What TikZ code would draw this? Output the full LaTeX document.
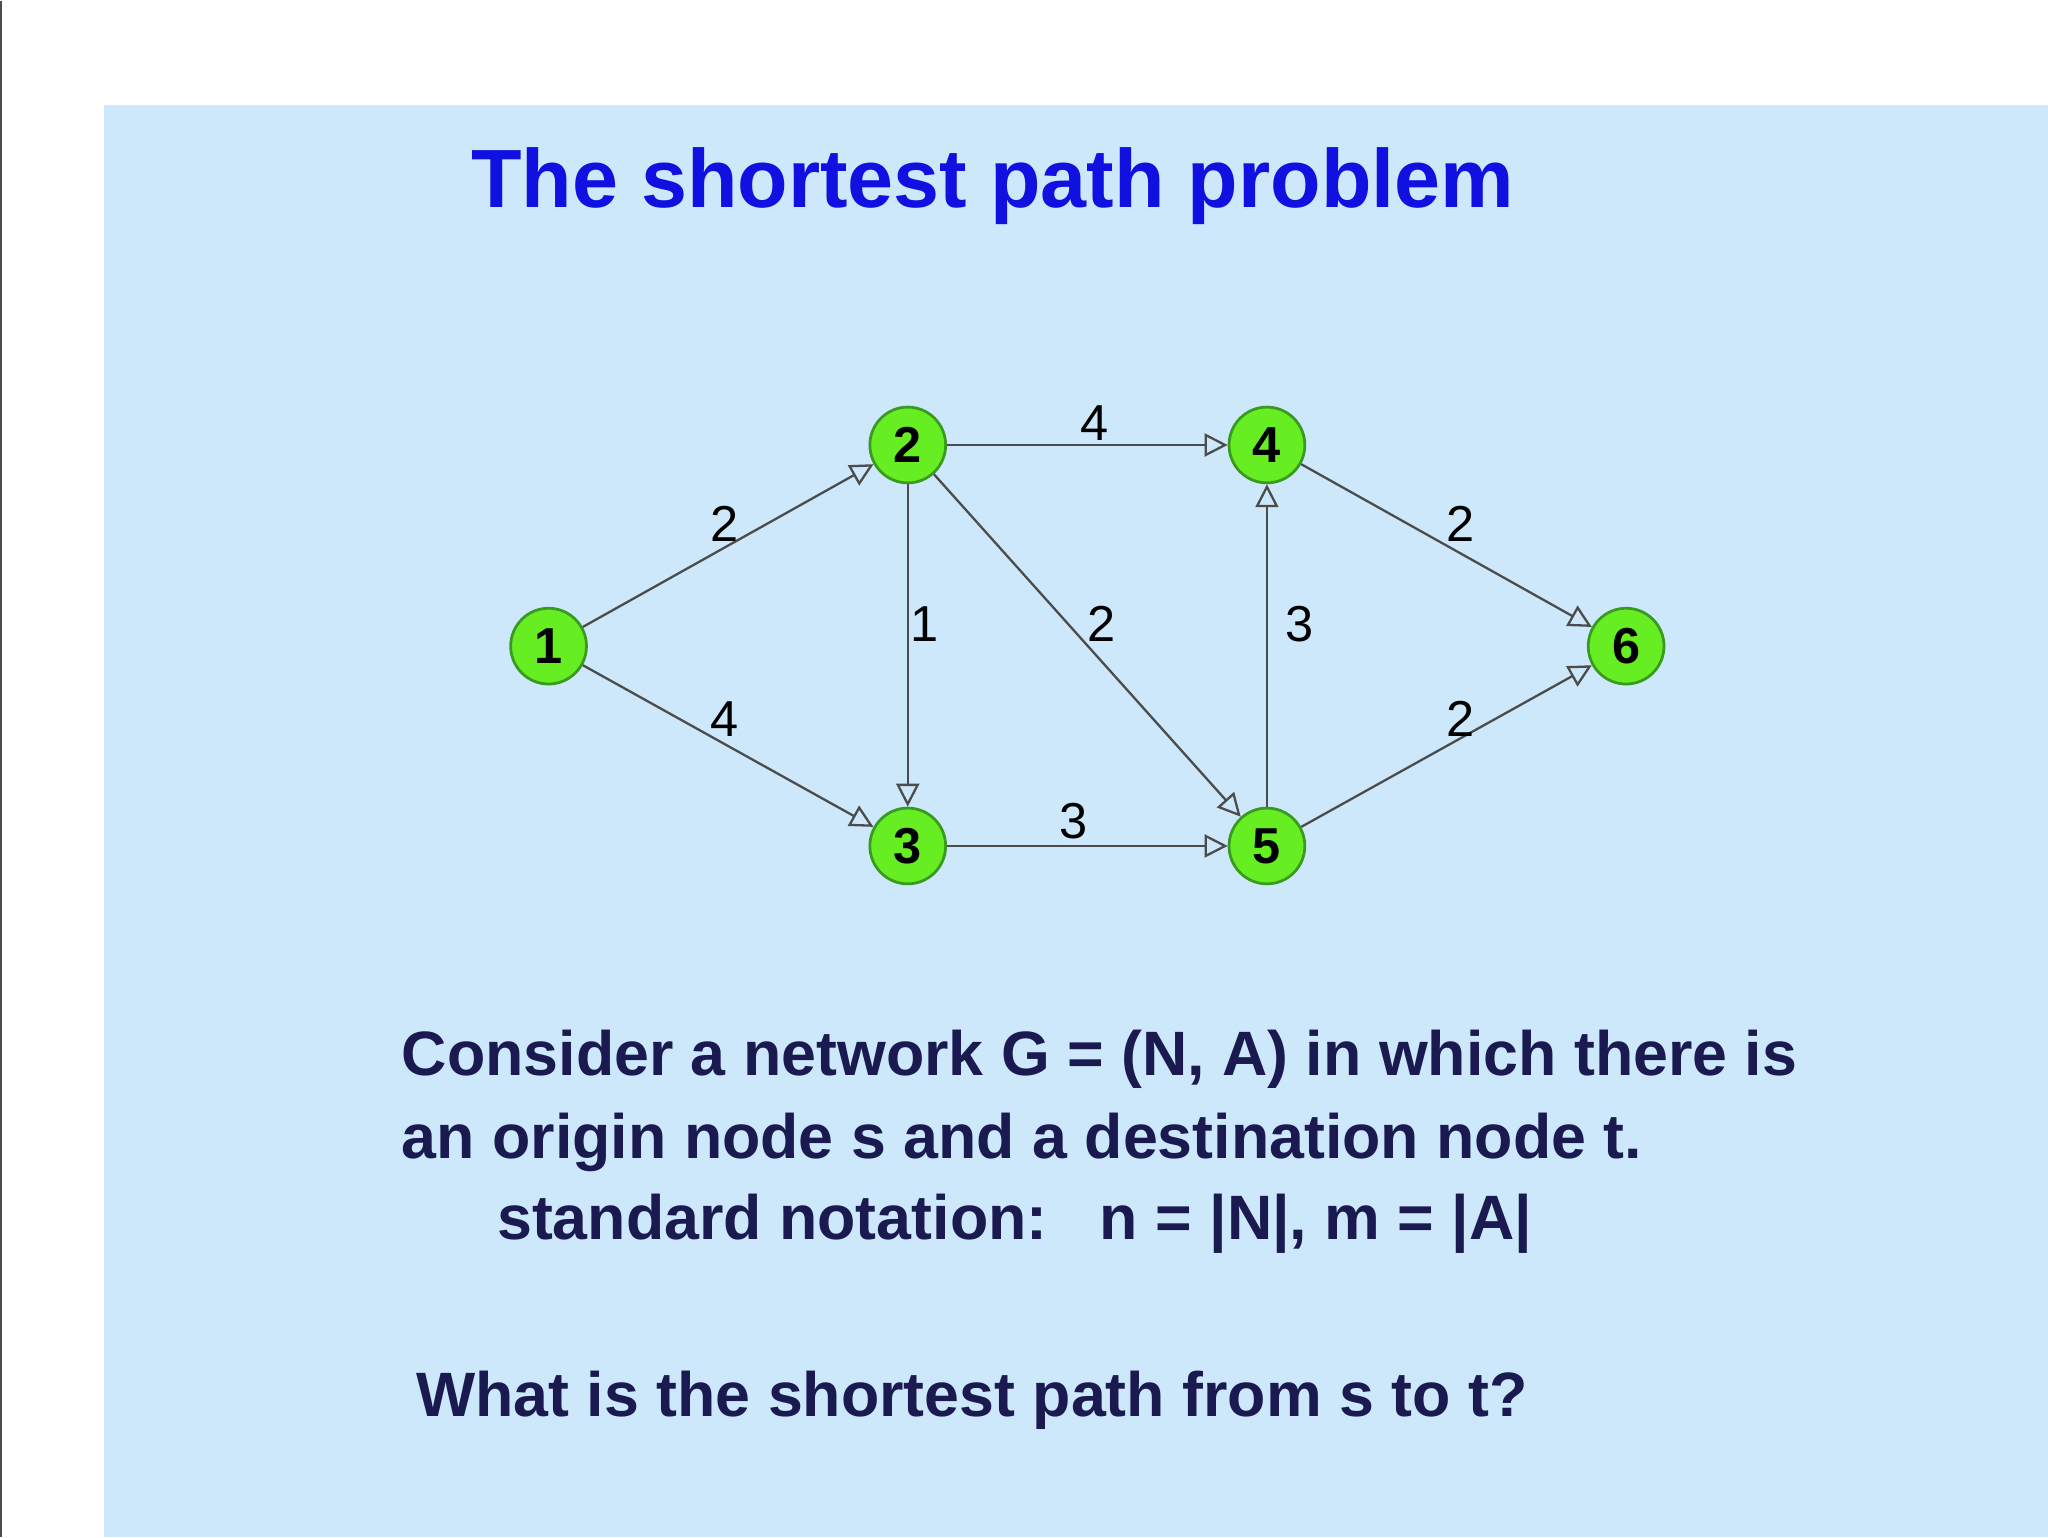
\documentclass[tikz,border=0pt]{standalone}
\usepackage{fontspec}
\setmainfont{Liberation Sans}
\usetikzlibrary{arrows.meta}
\definecolor{bg}{HTML}{CCE8FA}
\definecolor{ng}{HTML}{66EE22}
\definecolor{nb}{HTML}{3A9A20}
\definecolor{tb}{HTML}{1010E0}
\definecolor{tx}{HTML}{1A1A50}
\begin{document}
\begin{tikzpicture}[x=0.01cm,y=-0.01cm,
  vx/.style={circle,fill=ng,draw=nb,line width=0.6pt,minimum size=0.58cm,inner sep=0pt,font=\fontsize{11}{11}\selectfont\bfseries},
  ed/.style={draw=black!70,line width=0.5pt,-{Triangle[open,length=5pt,width=5pt]}},
  el/.style={font=\fontsize{11}{11}\selectfont,text=black},
  body/.style={anchor=base west,inner sep=0pt,text=tx,font=\fontsize{13.65}{13.65}\selectfont\bfseries}]
\fill[white] (0,0) rectangle (1568,1176);
\fill[bg] (80,80) rectangle (1568,1176);
\draw[black!70,line width=0.4pt] (1,0) -- (1,1176);
\node[text=tb,font=\fontsize{18}{18}\selectfont\bfseries] (title) at (760,142) {The shortest path problem};
\node[vx] (n1) at (420,494) {1};
\node[vx] (n2) at (695,340) {2};
\node[vx] (n3) at (695,647) {3};
\node[vx] (n4) at (970,340) {4};
\node[vx] (n5) at (970,647) {5};
\node[vx] (n6) at (1245,494) {6};
\draw[ed] (n1) -- (n2);
\draw[ed] (n1) -- (n3);
\draw[ed] (n2) -- (n4);
\draw[ed] (n2) -- (n3);
\draw[ed] (n2) -- (n5);
\draw[ed] (n5) -- (n4);
\draw[ed] (n3) -- (n5);
\draw[ed] (n4) -- (n6);
\draw[ed] (n5) -- (n6);
\node[el] (l12) at (555,400) {2};
\node[el] (l13) at (555,550) {4};
\node[el] (l24) at (838,323) {4};
\node[el] (l23) at (708,477) {1};
\node[el] (l25) at (843,477) {2};
\node[el] (l54) at (995,477) {3};
\node[el] (l35) at (822,628) {3};
\node[el] (l46) at (1118,400) {2};
\node[el] (l56) at (1118,550) {2};
\node[body] (t1) at (307,823) {Consider a network G = (N, A) in which there is};
\node[body] (t2) at (307,886) {an origin node s and a destination node t.};
\node[body] (t3) at (380,948) {standard notation:\ \ \ n = |N|, m = |A|};
\node[body] (t4) at (318,1084) {What is the shortest path from s to t?};
\end{tikzpicture}
\end{document}
